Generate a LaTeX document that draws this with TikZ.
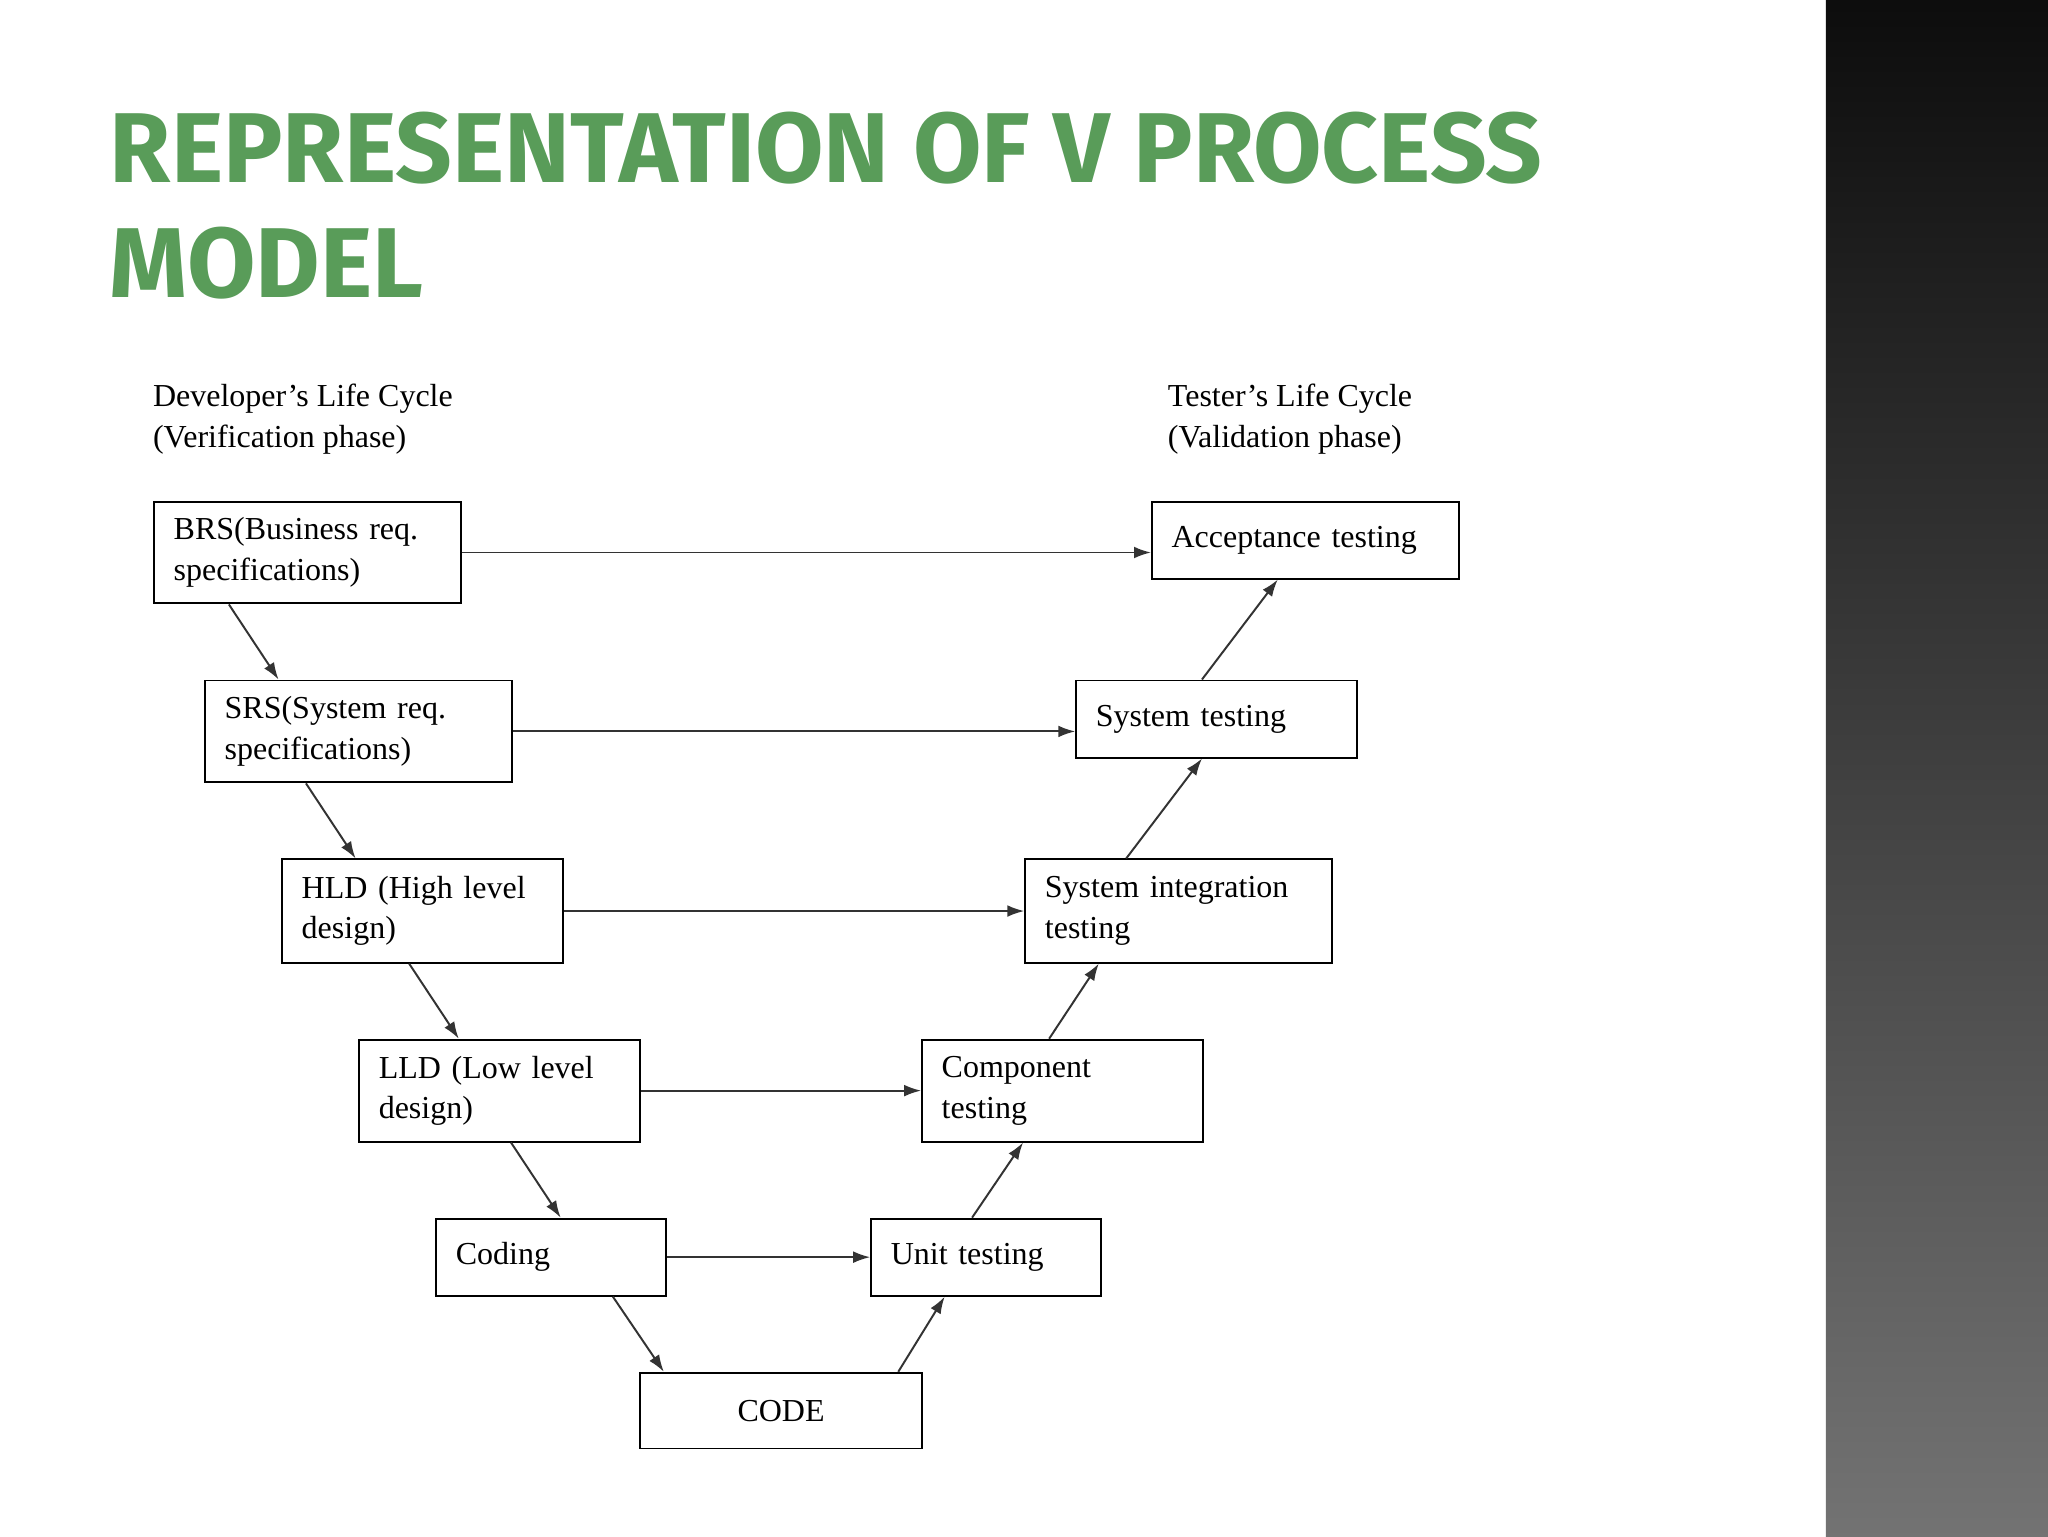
\documentclass[tikz,border=0pt]{standalone}
\usepackage{fontspec}
\setmainfont{Liberation Serif}
\newfontfamily\titlefont{Fira Sans}
\usetikzlibrary{arrows.meta}
\begin{document}
\begin{tikzpicture}[x=1pt,y=-1pt,
  box/.style={draw,line width=1.5pt,rectangle,inner sep=0pt,align=left,font=\fontsize{24.5}{31}\selectfont},
  arr/.style={-{Latex[length=13pt,width=9pt]},line width=1.5pt,draw=black!80}]
\useasboundingbox (0,0) rectangle (1568,1176);
\fill[white] (0,0) rectangle (1398,1176);
\shade[top color=black!95,bottom color=black!55] (1398,0) rectangle (1568,1176);
\colorlet{ttl}{green!40!black!65!white}
\node[anchor=base west,inner sep=0pt,font=\titlefont\bfseries\fontsize{76}{88}\selectfont,text=ttl,align=left] (title) at (84,140) {REPRESENTATION OF V PROCESS};
\node[anchor=base west,inner sep=0pt,font=\titlefont\bfseries\fontsize{76}{88}\selectfont,text=ttl] (title2) at (84,228) {MODEL};
\node[anchor=north west,align=left,inner sep=0pt,font=\fontsize{24.5}{31}\selectfont] (dev) at (117,294) {Developer’s Life Cycle\\(Verification phase)};
\node[anchor=north west,align=left,inner sep=0pt,font=\fontsize{24.5}{31}\selectfont] (tes) at (894,294) {Tester’s Life Cycle\\(Validation phase)};
% left
\node[box,minimum width=235,minimum height=78,text width=205] (brs) at (235.5,423) {BRS(Business req.\\specifications)};
\node[box,minimum width=235,minimum height=78,text width=205] (srs) at (274.5,560) {SRS(System req.\\specifications)};
\node[box,minimum width=215,minimum height=79,text width=185] (hld) at (323.5,697.5) {HLD (High level\\design)};
\node[box,minimum width=215,minimum height=78,text width=185] (lld) at (382.5,835) {LLD (Low level\\design)};
\node[box,minimum width=176,minimum height=59,text width=146] (cod) at (422,962.5) {Coding};
\node[box,minimum width=216,minimum height=58,align=center] (code) at (598,1080) {CODE};
% right
\node[box,minimum width=176,minimum height=59,text width=146] (unit) at (755,962.5) {Unit testing};
\node[box,minimum width=215,minimum height=78,text width=185] (comp) at (813.5,835) {Component\\testing};
\node[box,minimum width=235,minimum height=79,text width=205] (sit) at (902.5,697.5) {System integration\\testing};
\node[box,minimum width=215,minimum height=59,text width=185] (st) at (931.5,550.5) {System testing};
\node[box,minimum width=235,minimum height=59,text width=205] (acc) at (999.5,413.5) {Acceptance testing};
% diagonal
\draw[arr] ([xshift=58pt]brs.south west) -- ([xshift=57pt]srs.north west);
\draw[arr] ([xshift=78pt]srs.south west) -- ([xshift=57pt]hld.north west);
\draw[arr] ([xshift=98pt]hld.south west) -- ([xshift=77pt]lld.north west);
\draw[arr] ([xshift=117pt]lld.south west) -- ([xshift=96pt]cod.north west);
\draw[arr] ([xshift=136pt]cod.south west) -- ([xshift=19pt]code.north west);
\draw[arr] ([xshift=-19pt]code.north east) -- ([xshift=57pt]unit.south west);
\draw[arr] ([xshift=78pt]unit.north west) -- ([xshift=78pt]comp.south west);
\draw[arr] ([xshift=98pt]comp.north west) -- ([xshift=57pt]sit.south west);
\draw[arr] ([xshift=78pt]sit.north west) -- ([xshift=97pt]st.south west);
\draw[arr] ([xshift=97pt]st.north west) -- ([xshift=97pt]acc.south west);
% horizontal
\draw[arr] (brs.east) -- (brs.east -| acc.west);
\draw[arr] (srs.east) -- (srs.east -| st.west);
\draw[arr] (hld.east) -- (sit.west);
\draw[arr] (lld.east) -- (comp.west);
\draw[arr] (cod.east) -- (unit.west);
\end{tikzpicture}
\end{document}
